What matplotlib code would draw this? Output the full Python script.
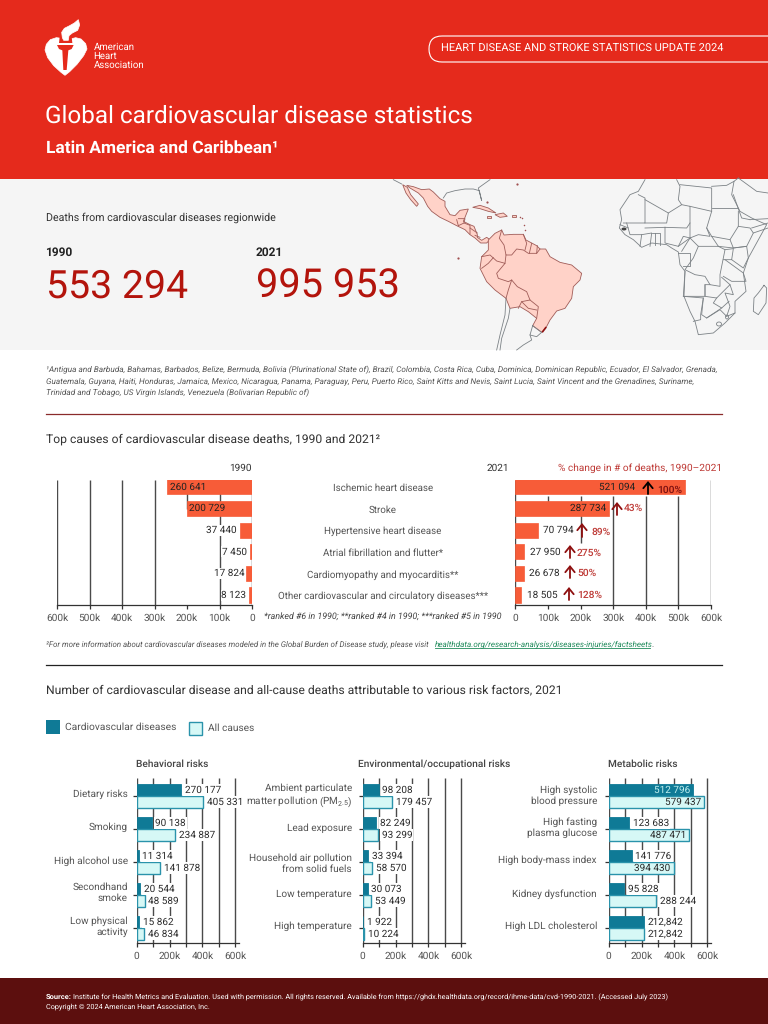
import matplotlib
matplotlib.use("Agg")
import matplotlib.pyplot as plt
from matplotlib.patches import Polygon, Rectangle, FancyBboxPatch, Ellipse

plt.rcParams['font.family'] = ['Roboto', 'DejaVu Sans']
plt.rcParams['mathtext.fontset'] = 'custom'
plt.rcParams['mathtext.rm'] = 'Roboto'
plt.rcParams['text.hinting'] = 'none'

# ---------------- data ----------------
causes = ["Ischemic heart disease", "Stroke", "Hypertensive heart disease",
          "Atrial fibrillation and flutter*", "Cardiomyopathy and myocarditis**",
          "Other cardiovascular and circulatory diseases***"]
deaths_1990 = [260641, 200729, 37440, 7450, 17824, 8123]
deaths_2021 = [521094, 287734, 70794, 27950, 26678, 18505]
pct_change = ["100%", "43%", "89%", "275%", "50%", "128%"]

behav_labels = ["Dietary risks", "Smoking", "High alcohol use", "Secondhand\nsmoke", "Low physical\nactivity"]
behav_cv = [270177, 90138, 11314, 20544, 15862]
behav_all = [405331, 234887, 141878, 48589, 46834]

env_labels = ["Ambient particulate\nmatter pollution (PM$_{2.5}$)", "Lead exposure",
              "Household air pollution\nfrom solid fuels", "Low temperature", "High temperature"]
env_cv = [98208, 82249, 33394, 30073, 1922]
env_all = [179457, 93299, 58570, 53449, 10224]

metab_labels = ["High systolic\nblood pressure", "High fasting\nplasma glucose", "High body-mass index",
                "Kidney dysfunction", "High LDL cholesterol"]
metab_cv = [512796, 123683, 141776, 95828, 212842]
metab_all = [579437, 487471, 394430, 288244, 212842]

# ---------------- colours ----------------
RED = '#E52A1C'; DARK = '#5C0F0E'; BAND = '#F5F5F5'; BIG = '#B3140C'
BAR = '#F75C38'; TEAL = '#0F7A96'; PALE = '#D6F8F6'; TEALE = '#2A93AB'
GRID = '#4A4A4A'; TXT = '#555555'; VAL = '#2A2A2A'; PCT = '#BE3A36'; ARW = '#8E0F0F'

W, H = 768, 1024
fig = plt.figure(figsize=(W/100, H/100), dpi=100, facecolor='white')

def overlay(z):
    a = fig.add_axes([0, 0, 1, 1], zorder=z)
    a.set_xlim(0, W); a.set_ylim(H, 0); a.axis('off')
    return a

bg = overlay(0)
fg = overlay(5)

def T(x, y, s, size=7, color=TXT, ha='left', va='center', ax=fg, **kw):
    return ax.text(x, y, s, fontsize=size, color=color, ha=ha, va=va, **kw)

def fmt(v):
    return f"{v:,}".replace(",", " ")

# ---------------- page bands ----------------
bg.add_patch(Rectangle((0, 0), W, 179, fc=RED, ec='none'))
bg.add_patch(Rectangle((0, 179), W, 171, fc=BAND, ec='none'))
bg.add_patch(Rectangle((0, 978), W, 46, fc=DARK, ec='none'))

# ---------------- logo ----------------
def L(p):
    return [(35 + x/3, 15 + y/3) for x, y in p]
heart = [(92,76),(80,70),(64,68),(46,74),(34,88),(30,105),(38,128),(56,152),(78,172),(90,181),(104,170),(126,148),(146,122),(156,102),
         (152,86),(138,72),(122,68),(106,72)]
torch = [(66,90),(116,90),(110,102),(100,106),(95,165),(85,165),(82,106),(72,102)]
flame = [(82,68),(80,52),(88,40),(104,32),(118,24),(130,14),(134,30),(128,46),(112,54),(102,62),(100,76),(86,76)]
bg.add_patch(Polygon(L(heart), fc='white', ec='white', lw=.5))
bg.add_patch(Polygon(L([(74,66),(110,66),(112,84),(72,84)]), fc=RED, ec='none'))
bg.add_patch(Polygon(L(flame), fc='white', ec='white', lw=.5))
bg.add_patch(Polygon(L(torch), fc=RED, ec='none'))
for yy, s in zip((47.5, 56.5, 65.5), ("American", "Heart", "Association")):
    T(93.5, yy, s, size=6.9, color='white')

# ---------------- header text ----------------
bg.add_patch(FancyBboxPatch((429, 36), 420, 26, boxstyle="round,pad=0,rounding_size=13", fc='none', ec='white', lw=.8))
T(441, 48.5, "HEART DISEASE AND STROKE STATISTICS UPDATE 2024", size=7.95, color='white')
T(45, 116.5, "Global cardiovascular disease statistics", size=17.45, color='white')
T(45.5, 148.5, "Latin America and Caribbean\u00b9", size=12.55, color='white', fontweight='bold')
T(45.5, 218, "Deaths from cardiovascular diseases regionwide", size=7.65, color='#333333')
T(45.5, 253, "1990", size=8.6, color='#222222', fontweight='bold')
T(256, 253, "2021", size=8.6, color='#222222', fontweight='bold')
T(45.5, 287, "553 294", size=28.3, color=BIG)
T(255.5, 287, "995 953", size=28.6, color=BIG)

# ---------------- map ----------------
def Z2(p): return [(380 + x/3, 175 + y/3) for x, y in p]
def Z8(p): return [(390 + x/3, 178 + y/3) for x, y in p]
def Z10(p): return [(610 + x/3, 178 + y/3) for x, y in p]
MF, ME, ML = '#FFD2C8', '#A05C58', '#7C8286'

def land(pts):
    bg.add_patch(Polygon(pts, fc=MF, ec=ME, lw=.6))
def bline(pts, c=ME, lw=.6):
    xs, ys = zip(*pts)
    bg.plot(xs, ys, color=c, lw=lw, solid_joinstyle='round')

land(Z8([(50,22),(70,26),(95,35),(118,33),(130,42),(150,62),(165,70),(165,85),(180,110),(195,113),(210,97),(235,93),(225,118),
         (220,130),(240,140),(252,145),(262,170),(262,178),(275,187),(290,178),(300,185),(290,195),(272,195),(255,180),(240,170),
         (225,155),(200,143),(175,130),(150,118),(125,100),(113,85),(100,60),(85,45),(60,30)]))
land(Z8([(38,20),(52,28),(62,50),(85,78),(80,85),(62,65),(48,45)]))
land(Z8([(248,88),(270,82),(295,90),(318,105),(295,100),(270,92)]))
land(Z8([(315,110),(340,105),(352,115),(330,118)]))
land(Z8([(290,113),(303,113),(303,120),(290,120)]))
land(Z8([(365,110),(378,110),(378,118),(365,118)]))
for p in [(291,71), (204,241), (380,19)]:
    xx, yy = Z8([p])[0]
    bg.plot(xx, yy, marker='o', ms=1.6, color='#A05050', mew=0)
for p in [(425,130),(432,150),(436,165),(420,125)]:
    xx, yy = Z2([p])[0]
    bg.plot(xx, yy, marker='o', ms=1.1, color='#A05050', mew=0)
for seg in ([(200,125),(205,143)], [(205,122),(225,122),(222,135),(205,143)], [(222,135),(240,142),(240,168)],
            [(240,150),(262,165)], [(255,172),(270,178)]):
    bline(Z8(seg))
bline(Z8([(10,5),(35,18)]), ML)
bline(Z8([(160,60),(170,45),(195,38),(225,33),(250,33),(268,38),(275,68),(265,30),(300,5)]), ML)

land(Z2([(325,195),(345,175),(365,165),(372,180),(400,178),(430,178),(438,195),(470,212),(480,222),(497,222),(510,245),(540,262),
         (575,270),(605,295),(600,315),(580,335),(575,370),(555,400),(530,408),(510,435),(497,460),(485,472),(458,452),(470,430),
         (445,410),(420,395),(390,400),(378,370),(345,345),(320,320),(300,280),(305,245),(325,225)]))
for seg in ([(365,165),(358,190),(372,210),(378,240),(395,240),(410,222),(430,225),(445,235),(470,235),(480,222)],
            [(430,178),(440,205),(435,225)], [(455,205),(448,235)], [(472,212),(470,235)],
            [(305,245),(330,240),(350,258),(375,265),(350,295),(355,310),(385,320),(395,315),(412,335),(440,350),(450,375),(475,395),(470,430)],
            [(305,280),(325,265),(340,248)], [(375,265),(378,240)],
            [(395,315),(385,345),(378,370)], [(450,375),(425,380),(415,400)], [(425,380),(445,400),(470,405)]):
    bline(Z2(seg))
bline(Z2([(488,470),(497,458)]), '#8E0F0F', 1.2)
for seg in ([(378,370),(375,420),(360,480),(350,525)], [(390,400),(385,430),(365,490),(360,525)],
            [(458,452),(485,472),(470,485),(450,480),(458,452)], [(450,480),(455,495),(430,510),(410,525)]):
    bline(Z2(seg), ML)

africa = [
 [(105,5),(85,40),(60,50),(40,80),(30,95),(35,125),(28,150),(45,170),(70,185),(95,208),(125,195),(170,200),(185,210),(205,222),(210,260),
  (225,280),(222,355),(240,400),(255,430),(265,470),(310,465),(345,435),(375,405),(375,370),(408,340),(400,285),(415,240),(470,140),(425,120),
  (390,100),(365,50),(372,10),(385,0)],
 [(85,50),(105,60),(105,135),(40,135)], [(105,65),(175,105),(170,135),(105,135)],
 [(175,105),(215,80),(240,85),(240,135),(230,150),(165,148)], [(200,5),(210,25),(205,65),(215,80)],
 [(210,20),(305,30),(305,100),(240,85)], [(305,90),(385,90)], [(305,25),(350,22),(372,10)],
 [(305,100),(290,150),(300,175),(265,170),(240,180),(240,135)], [(290,150),(305,175),(360,185),(385,145),(385,100)],
 [(305,175),(325,205),(370,210),(360,185)], [(385,145),(420,150),(430,165),(410,205),(370,210)],
 [(165,148),(165,195),(205,205),(240,180)], [(205,205),(220,175),(240,180),(215,220)], [(240,180),(265,205),(325,205)],
 [(265,205),(250,240),(225,275),(255,290),(285,295),(300,320),(330,325),(330,290),(345,215),(325,205)],
 [(225,280),(220,355),(285,355),(285,320),(300,320)], [(345,245),(400,285),(408,310),(365,310),(340,295)],
 [(370,210),(410,205),(415,240),(400,270),(365,245)], [(345,215),(370,212),(365,245),(340,245)],
 [(285,320),(285,355),(320,360),(340,340),(360,320),(335,298)], [(360,320),(370,350),(345,345),(360,385),(350,415),(375,405)],
 [(320,360),(310,375),(335,390),(357,370)], [(280,360),(275,410),(290,420),(335,390)], [(220,355),(280,360),(272,410),(272,425),(250,430)],
 [(290,420),(330,395),(350,415)], [(50,135),(60,170),(95,170),(125,165),(120,205)], [(125,165),(150,165),(150,200)],
 [(105,150),(165,148)], [(135,165),(135,200)], [(95,170),(90,205)], [(462,322),(470,330),(468,375),(445,410),(430,400),(432,360),(445,345),(462,322)],
 [(425,150),(474,135)], [(430,165),(474,150)], [(370,50),(395,120),(420,125)], [(420,125),(474,122)], [(385,0),(440,40),(474,45)],
 [(205,225),(240,225),(240,265),(218,265)], [(30,140),(55,150)],
]
for seg in africa:
    bline(Z10(seg), ML, .6)
bg.add_patch(Ellipse(Z10([(327,438)])[0], 5, 4, fc='none', ec=ML, lw=.6))
bg.add_patch(Ellipse(Z10([(351,417)])[0], 3, 4, fc='none', ec=ML, lw=.6))
bg.add_patch(Ellipse(Z10([(42,153)])[0], 5, 3, fc='#444444', ec='none'))

# ---------------- note block ----------------
note = ["\u00b9Antigua and Barbuda, Bahamas, Barbados, Belize, Bermuda, Bolivia (Plurinational State of), Brazil, Colombia, Costa Rica, Cuba, Dominica, Dominican Republic, Ecuador, El Salvador, Grenada,",
        "Guatemala, Guyana, Haiti, Honduras, Jamaica, Mexico, Nicaragua, Panama, Paraguay, Peru, Puerto Rico, Saint Kitts and Nevis, Saint Lucia, Saint Vincent and the Grenadines, Suriname,",
        "Trinidad and Tobago, US Virgin Islands, Venezuela (Bolivarian Republic of)"]
for yy, s in zip((370, 381.5, 392.5), note):
    T(45.5, yy, s, size=5.92, color='#555555', style='italic')
bg.plot([46, 722], [414, 414], color='#8A2B2B', lw=.9)
T(45.5, 439, "Top causes of cardiovascular disease deaths, 1990 and 2021\u00b2", size=8.7, color='#333333')

# ---------------- top charts ----------------
def axes_px(x0, x1, y0, y1):
    a = fig.add_axes([x0/W, 1 - y1/H, (x1 - x0)/W, (y1 - y0)/H], zorder=2)
    a.patch.set_visible(False)
    for s in ('top', 'left', 'right'):
        a.spines[s].set_visible(False)
    a.spines['bottom'].set_linewidth(.9); a.spines['bottom'].set_color('#333333')
    a.set_yticks([])
    return a

TOP_B, TOP_T = 5.46, -0.32
def top_chart(x0, x1, values, xlim, ticks, spans, tlab):
    a = axes_px(x0, x1, 480, 605)
    a.set_xlim(*xlim); a.set_ylim(TOP_B, TOP_T)
    for t_, (r0, r1) in zip(ticks, spans):
        a.plot([t_, t_], [r0, r1], color=GRID, lw=1.0, zorder=1, solid_capstyle='butt')
    a.barh(range(len(values)), values, height=.7, color=BAR, edgecolor=BAR, lw=.5, zorder=2)
    a.set_xticks(ticks); a.set_xticklabels(tlab, fontsize=7.3, color=TXT)
    a.tick_params(axis='x', length=3, width=.9, color='#333333', pad=3)
    return a

tk = [0, 100000, 200000, 300000, 400000, 500000, 600000]
tl = ["0", "100k", "200k", "300k", "400k", "500k", "600k"]
full = (TOP_T, TOP_B)
a1 = top_chart(57, 252, deaths_1990, (600000, 0), tk, [full, full, (TOP_T, 1.0), full, full, full, full], tl)
a2 = top_chart(515.3, 711, deaths_2021, (0, 600000), tk,
               [full, (0.4, 1.0), (0.4, 2.6), (0.4, TOP_B), (0.4, TOP_B), (0.4, TOP_B), full], tl)

def vlabel(a, v, row, dx, ha, color=VAL, box=True):
    a.annotate(fmt(v), (v, row), xytext=(dx, 0), textcoords='offset pixels', ha=ha, va='center', fontsize=7.2,
               color=color, zorder=4, annotation_clip=False,
               bbox=dict(fc='white', ec='none', pad=.5) if box else None)

left_style = [(3, 'left', False), (2.5, 'left', False), (-3, 'right', True), (-3, 'right', True), (-2, 'right', True), (-3, 'right', True)]
for i, v in enumerate(deaths_1990):
    dx, ha, box = left_style[i]
    vlabel(a1, v, i, dx, ha, color=VAL if box else '#222222', box=box)

right_style = [(-50, 'right', False), (-3, 'right', False), (5, 'left', True), (6, 'left', True), (5, 'left', True), (6, 'left', True)]
for i, v in enumerate(deaths_2021):
    dx, ha, box = right_style[i]
    vlabel(a2, v, i, dx, ha, color=VAL if box else '#222222', box=box)

ax_ = [648, 617, 582, 570, 570, 569]
ay_ = [(494, 482), (515, 503), (537, 524), (558, 546), (578, 566), (600, 588)]
px_ = [(657, 490.5), (624, 508), (591, 532), (577, 553.5), (577, 573.5), (577, 595)]
for i, p in enumerate(pct_change):
    col = 'black' if i == 0 else ARW
    fg.annotate("", xy=(ax_[i], ay_[i][1] - 1), xytext=(ax_[i], ay_[i][0]),
                arrowprops=dict(arrowstyle='->,head_width=0.26,head_length=0.32', color=col, lw=1.3, mutation_scale=13,
                                shrinkA=0, shrinkB=0))
    T(px_[i][0], px_[i][1], p, size=7.4, color=('#7A1010' if i == 0 else PCT), fontweight='medium')

T(252, 468, "1990", size=7.2, color='#333333', ha='right')
T(509, 468, "2021", size=7.2, color='#333333', ha='right')
T(722, 468, "% change in # of deaths, 1990\u20132021", size=7.25, color=PCT, ha='right')
for yy, s in zip((488, 510, 531.5, 553, 575, 596.5), causes):
    T(383, yy, s, size=7.05, color=TXT, ha='center')
T(382.5, 617.5, "*ranked #6 in 1990; **ranked #4 in 1990; ***ranked #5 in 1990", size=6.4, color='#444444', ha='center', style='italic')

T(45.5, 644.5, "\u00b2For more information about cardiovascular diseases modeled in the Global Burden of Disease study, please visit ",
  size=5.65, color='#555555', style='italic')
T(435, 644.5, "healthdata.org/research-analysis/diseases-injuries/factsheets", size=5.85, color='#1F8A5B', style='italic')
bg.plot([435, 650], [648, 648], color='#1F8A5B', lw=.6)
T(651, 644.5, ".", size=5.8, color='#555555')

bg.plot([46, 722], [665, 665], color='#222222', lw=.9)
T(45.5, 690, "Number of cardiovascular disease and all-cause deaths attributable to various risk factors, 2021", size=8.7, color='#333333')

bg.add_patch(Rectangle((46, 720), 13.5, 14, fc=TEAL, ec='none'))
T(65, 727, "Cardiovascular diseases", size=7.4, color=TXT)
bg.add_patch(Rectangle((188.5, 722), 13, 13, fc=PALE, ec=TEALE, lw=1))
T(208, 728, "All causes", size=7.3, color=TXT)

# ---------------- risk-factor charts ----------------
BB, BT = 4.455, -0.545
def risk_chart(x0, title, title_x, labels, cv, al, label_x, label_y, inside_cv=(), inside_all=()):
    a = axes_px(x0, x0 + 98.6 * 1.035, 778, 943)
    a.set_xlim(0, 621000); a.set_ylim(BB, BT)
    for t_ in tk:
        a.plot([t_, t_], [BB, BT], color=GRID, lw=1.0, zorder=1, solid_capstyle='butt')
    n = range(len(labels))
    a.barh([i - .18 for i in n], cv, height=.36, color=TEAL, edgecolor=TEAL, lw=.6, zorder=2)
    a.barh([i + .18 for i in n], al, height=.34, color=PALE, edgecolor=TEALE, lw=1.0, zorder=2)
    a.set_xticks(tk); a.set_xticklabels(["0", "", "200k", "", "400k", "", "600k"], fontsize=7.3, color=TXT)
    a.tick_params(axis='x', length=3, width=.9, color='#333333', pad=3)
    a.set_yticks(list(n)); a.set_yticklabels([])
    a.tick_params(axis='y', length=3, width=.9, color='#333333')
    def put(v, row, inside, col_in):
        s = "212,842" if v == 212842 else fmt(v)
        if inside:
            a.annotate(s, (v, row), xytext=(-3, 0), textcoords='offset pixels', ha='right', va='center',
                       fontsize=7.2, color=col_in, zorder=4)
        else:
            a.annotate(s, (v, row), xytext=(3.5, 0), textcoords='offset pixels', ha='left', va='center',
                       fontsize=7.2, color=VAL, zorder=4, bbox=dict(fc='white', ec='none', pad=.8))
    for i, (c, v) in enumerate(zip(cv, al)):
        put(c, i - .18, i in inside_cv, '#BFF0EF')
        put(v, i + .18, i in inside_all, VAL)
        T(label_x, label_y[i], labels[i], size=7.2, color=TXT, ha='right', linespacing=1.2)
    T(title_x, 764, title, size=7.3, color='#444444', fontweight='medium')
    return a

risk_chart(136.7, "Behavioral risks", 135.5, behav_labels, behav_cv, behav_all, 128, (794, 827, 861, 892.5, 927))
risk_chart(362.7, "Environmental/occupational risks", 358, env_labels, env_cv, env_all, 352, (796, 828, 864, 894, 926))
risk_chart(608.7, "Metabolic risks", 608.5, metab_labels, metab_cv, metab_all, 597, (795.5, 827.5, 860, 894, 926),
           inside_cv=(0,), inside_all=(0, 1, 2))

# ---------------- footer ----------------
T(45.5, 997, "Source:", size=5.4, color='white', fontweight='bold')
T(73, 997, "Institute for Health Metrics and Evaluation. Used with permission. All rights reserved. Available from https://ghdx.healthdata.org/record/ihme-data/cvd-1990-2021. (Accessed July 2023)",
  size=5.2, color='white')
T(45.5, 1006.5, "Copyright \u00a9 2024 American Heart Association, Inc.", size=5.2, color='white')

fig.savefig("out.png", dpi=100, facecolor='white')
